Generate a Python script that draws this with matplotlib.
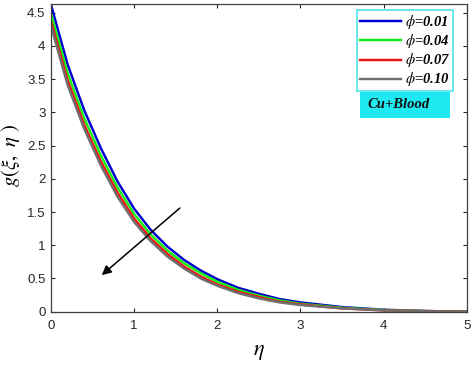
import matplotlib.pyplot as plt
from matplotlib.patches import Rectangle

# eta grid and curves
eta = [0, 0.2, 0.4, 0.6, 0.8, 1.0, 1.2, 1.4, 1.6, 1.8, 2.0,
       2.25, 2.5, 2.75, 3.0, 3.5, 4.0, 4.5, 5.0]
g_001 = [4.62, 3.72, 3.03, 2.46, 1.96, 1.55, 1.23, 0.98, 0.78, 0.62, 0.49,
         0.36, 0.27, 0.19, 0.14, 0.07, 0.03, 0.01, 0.0]
g_004 = [4.48, 3.59, 2.91, 2.35, 1.87, 1.47, 1.16, 0.92, 0.73, 0.58, 0.45,
         0.33, 0.24, 0.17, 0.12, 0.06, 0.025, 0.01, 0.0]
g_007 = [4.37, 3.48, 2.81, 2.26, 1.79, 1.40, 1.10, 0.87, 0.68, 0.53, 0.41,
         0.30, 0.22, 0.15, 0.11, 0.05, 0.02, 0.01, 0.0]
g_010 = [4.30, 3.41, 2.75, 2.20, 1.73, 1.35, 1.06, 0.83, 0.65, 0.50, 0.39,
         0.28, 0.20, 0.14, 0.10, 0.05, 0.02, 0.005, 0.0]

labels = [r'$\phi$=0.01', r'$\phi$=0.04', r'$\phi$=0.07', r'$\phi$=0.10']
colors = ['#0000cc', '#11ee11', '#ee1111', '#707070']

# arrow (tail, head) in data units
arrow_tail = (1.55, 1.56)
arrow_head = (0.61, 0.55)

fig = plt.figure(figsize=(4.74, 3.68), dpi=100)
ax = fig.add_axes([0.1076, 0.153, 0.877, 0.836])

for y, lab, c in zip([g_001, g_004, g_007, g_010], labels, colors):
    ax.plot(eta, y, color=c, lw=1.75, label=lab)

ax.annotate('', xy=arrow_head, xytext=arrow_tail,
            arrowprops=dict(arrowstyle='-|>', color='black', lw=1.1,
                            mutation_scale=14, shrinkA=0, shrinkB=0))

ax.set_xlim(0, 5)
ax.set_ylim(0, 4.63)
ax.set_xticks([0, 1, 2, 3, 4, 5])
ax.set_yticks([0, 0.5, 1, 1.5, 2, 2.5, 3, 3.5, 4, 4.5])
ax.set_yticklabels(['0', '0.5', '1', '1.5', '2', '2.5', '3', '3.5', '4', '4.5'])
ax.tick_params(direction='in', length=3, width=0.8, top=True, right=True,
               labelsize=9.5, colors='#262626', pad=4)
for lab in ax.get_xticklabels() + ax.get_yticklabels():
    lab.set_fontfamily('Liberation Sans')
ax.tick_params(axis='x', pad=6)
for s in ax.spines.values():
    s.set_color('#404040')
    s.set_linewidth(0.9)

ax.set_xlabel(r'$\eta$', fontsize=16, math_fontfamily='stix')
ax.xaxis.set_label_coords(0.5, -0.1)
ax.set_ylabel(r'$g(\xi,\ \eta\ )$', fontsize=15, math_fontfamily='stix')
ax.yaxis.set_label_coords(-0.07, 0.506)

leg = ax.legend(loc='upper right', bbox_to_anchor=(0.975, 0.99),
                prop={'family': 'Liberation Serif', 'weight': 'bold',
                      'style': 'italic', 'size': 10.5},
                frameon=True, fancybox=False, handlelength=2.8,
                handleheight=0.5, handletextpad=0.3, labelspacing=0.08,
                borderpad=0.2, borderaxespad=0.2)
leg.get_frame().set_edgecolor('#33e0e8')
leg.get_frame().set_linewidth(1.3)
for t in leg.get_texts():
    t.set_math_fontfamily('stix')

ax.add_patch(Rectangle((0.743, 0.6285), 0.217, 0.0865, transform=ax.transAxes,
                       facecolor='#1ee8f0', edgecolor='none', zorder=4))
ax.text(0.762, 0.672, 'Cu+Blood', transform=ax.transAxes,
        fontsize=10.5, family='Liberation Serif', weight='bold', style='italic',
        color='#101010', va='center', ha='left', zorder=5)

fig.savefig('out.png', dpi=100)
